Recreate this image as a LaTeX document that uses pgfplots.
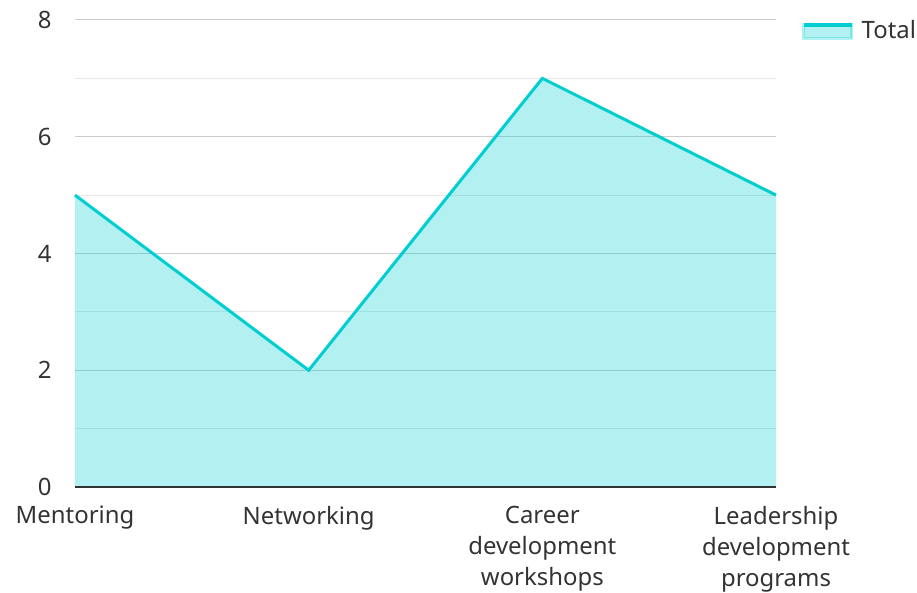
\documentclass[border=0pt]{standalone}
\usepackage{pgfplots}
\pgfplotsset{compat=1.18}
\usepackage{fontspec}
\setmainfont{Noto Sans}
\definecolor{lineC}{HTML}{00CED1}
\definecolor{txt}{HTML}{333333}
\begin{document}
\begin{tikzpicture}[x=1bp,y=1bp]
\path[use as bounding box] (-75,-106) rectangle (842,487);
\begin{axis}[
  at={(0,0)}, anchor=south west,
  scale only axis, width=701bp, height=467bp,
  xmin=0, xmax=3, ymin=0, ymax=8,
  xtick={0,1,2,3},
  xticklabels={Mentoring,Networking,{Career\\development\\workshops},{Leadership\\development\\programs}},
  x tick label style={align=center, text=txt, font=\fontsize{24}{31}\selectfont, inner sep=0pt, yshift=-19bp},
  ytick={0,2,4,6,8},
  minor ytick={1,3,5,7},
  y tick label style={text=txt, font=\fontsize{24}{28}\selectfont, xshift=-20bp},
  /pgf/number format/assume math mode=true,
  ymajorgrids, yminorgrids,
  major grid style={draw=black!20, line width=1bp},
  minor grid style={draw=black!9, line width=1bp},
  axis line style={draw=none},
  axis x line*=bottom,
  axis y line*=left,
  major tick length=0pt, minor tick length=0pt,
  tick style={draw=none},
  clip=false,
  legend style={at={(1,1)}, anchor=north west, xshift=26bp, yshift=0bp, draw=none, fill=none,
    font=\fontsize{24}{28}\selectfont, text=txt, inner sep=0pt,
    nodes={inner xsep=8bp, inner ysep=0pt}},
  legend cell align=left,
]
\addplot[draw=none, fill=lineC, fill opacity=0.3, forget plot] coordinates {(0,5) (1,2) (2,7) (3,5)} \closedcycle;
\addplot[draw=lineC, line width=3bp,
  legend image code/.code={
    \fill[lineC, opacity=0.3] (0bp,-8bp) rectangle (48bp,6bp);
    \draw[lineC, line width=3.5bp] (0bp,5bp) -- (48bp,5bp);
  }] coordinates {(0,5) (1,2) (2,7) (3,5)};
\addlegendentry{Total}
\draw[color=txt, line width=2bp] (axis cs:0,0) -- (axis cs:3,0);
\end{axis}
\end{tikzpicture}
\end{document}
